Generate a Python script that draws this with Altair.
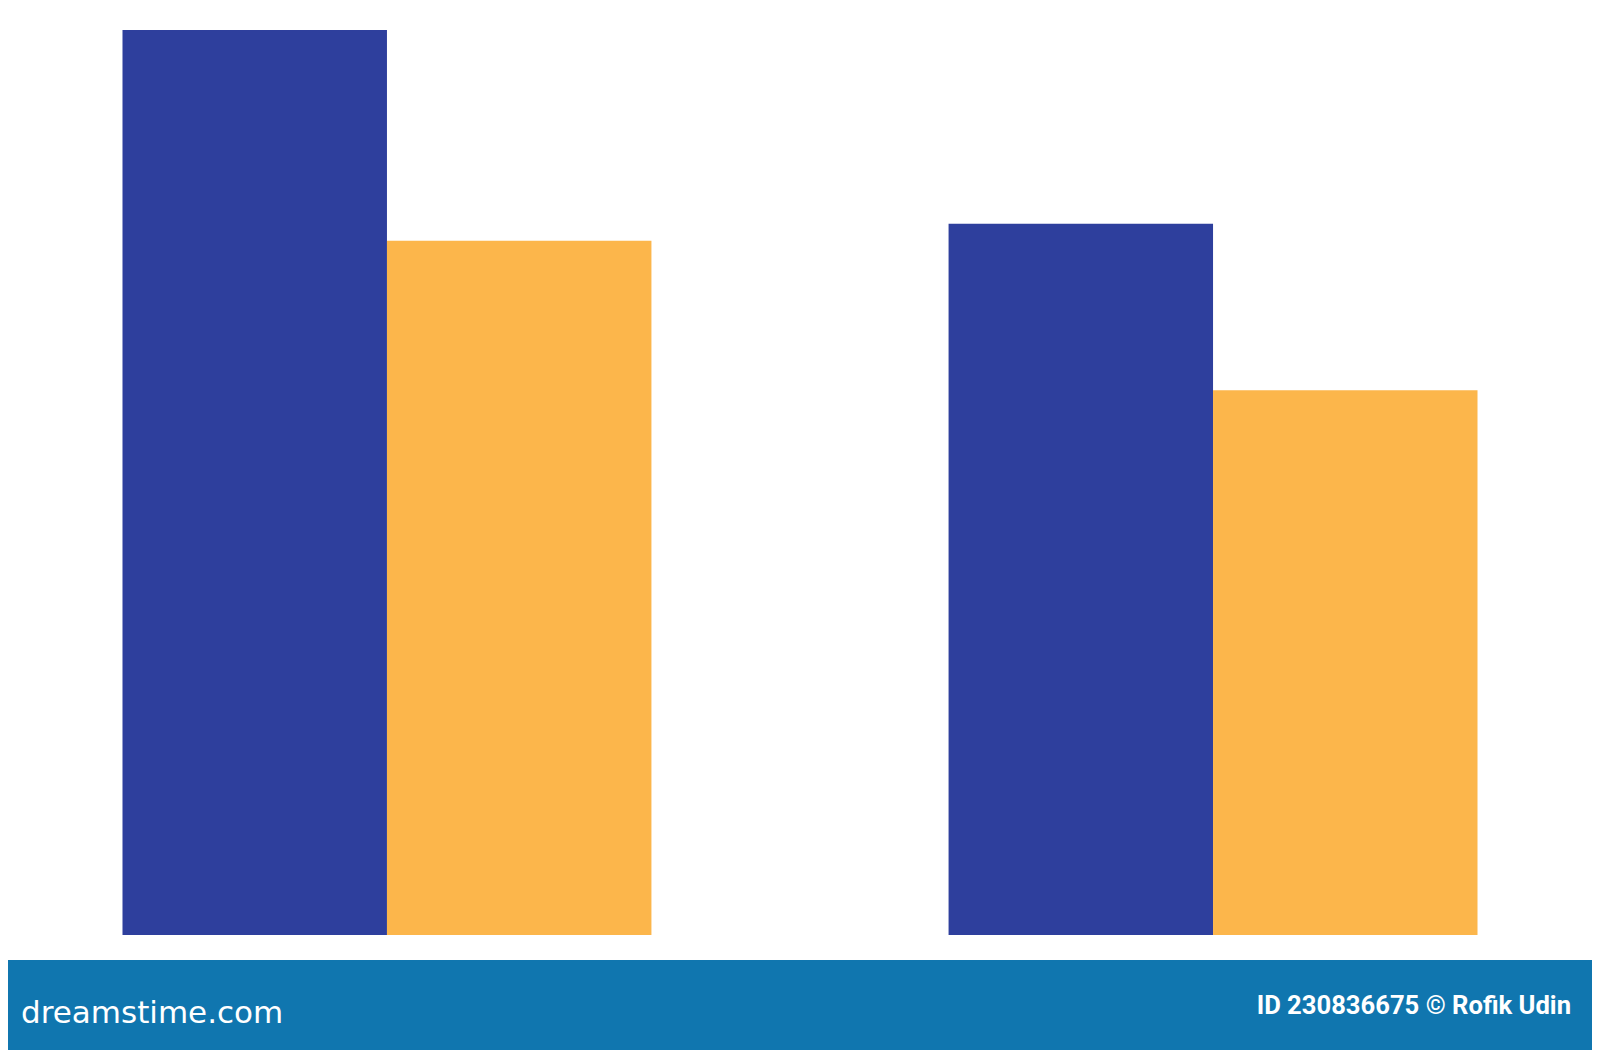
import altair as alt
import pandas as pd

# Data
groups = ["A", "A", "B", "B"]
series = ["Series 1", "Series 2", "Series 1", "Series 2"]
values = [100.0, 76.7, 78.6, 60.2]
series_names = ["Series 1", "Series 2"]
series_colors = ["#2E3F9D", "#FCB64B"]
footer_left = "dreamstime.com"
footer_right = "ID 230836675 \u00a9 Rofik Udin"

W = 1584
H = 927

df = pd.DataFrame({"group": groups, "series": series, "value": values})

bars = alt.Chart(df).mark_bar().encode(
    x=alt.X("group:N", axis=None,
            scale=alt.Scale(paddingInner=0.3597, paddingOuter=0.1386)),
    xOffset=alt.XOffset("series:N", scale=alt.Scale(paddingInner=0, paddingOuter=0),
                        sort=series_names),
    y=alt.Y("value:Q", axis=None, scale=alt.Scale(domain=[0, 102.43], nice=False, zero=True)),
    color=alt.Color("series:N", legend=None,
                    scale=alt.Scale(domain=series_names, range=series_colors)),
)

banner_df = pd.DataFrame({"k": [0]})
banner = alt.Chart(banner_df).mark_rect(color="#1076AF").encode(
    x=alt.value(-8), x2=alt.value(W + 8), y=alt.value(H + 25), y2=alt.value(H + 120)
)
left_text = alt.Chart(pd.DataFrame({"t": [footer_left]})).mark_text(
    color="white", font="DejaVu Sans", fontSize=31, fontWeight=400, align="left", baseline="alphabetic"
).encode(x=alt.value(13), y=alt.value(H + 88), text="t:N")
right_text = alt.Chart(pd.DataFrame({"t": [footer_right]})).mark_text(
    color="white", font="Roboto", fontSize=25.6, fontWeight="bold", align="right", baseline="alphabetic"
).encode(x=alt.value(1563), y=alt.value(H + 79), text="t:N")

chart = alt.layer(bars, banner, left_text, right_text).properties(
    width=W, height=H,
    autosize=alt.AutoSizeParams(type="none"),
    padding={"left": 0, "top": 0, "right": 0, "bottom": 120},
    background="white",
).configure_view(stroke=None)

chart.save("out.html", embed_options={"renderer": "svg", "actions": False})
